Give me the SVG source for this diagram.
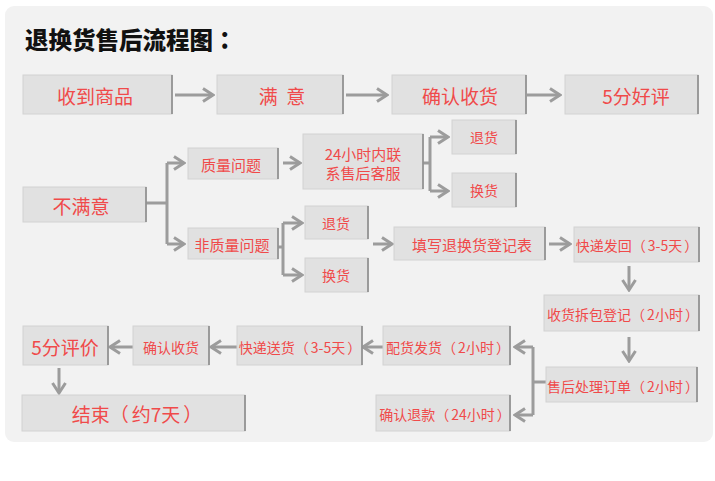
<svg xmlns="http://www.w3.org/2000/svg" width="715" height="481" viewBox="0 0 715 481">
<defs>
<style>
.bx rect{fill:#e1e1e1;stroke:#d2d2d2;stroke-width:1}
.bx line{stroke:#8a8a8a;stroke-width:1.6}
.t{font-family:"Microsoft YaHei","Noto Sans CJK SC",sans-serif;fill:#f04a4a;text-anchor:middle;dominant-baseline:central}
.l{font-size:19px}
.m{font-size:15px}
.s{font-size:14px}
.c path{fill:none;stroke:#9c9c9c;stroke-width:3}
.c path.a{marker-end:url(#ah)}
</style>
<marker id="ah" viewBox="0 0 14 16" refX="12" refY="8" markerWidth="14" markerHeight="16" markerUnits="userSpaceOnUse" orient="auto">
<path d="M2,1.5 L12,8 L2,14.5" fill="none" stroke="#9c9c9c" stroke-width="3"/>
</marker>
</defs>
<rect x="0" y="0" width="715" height="481" fill="#ffffff"/>
<rect x="5" y="6" width="708" height="436" rx="9" fill="#f2f2f2"/>
<text x="25" y="49" font-family="Noto Sans CJK SC,sans-serif" font-size="23.5" font-weight="900" fill="#111">退换货售后流程图<tspan font-family="Noto Sans CJK TC,sans-serif">：</tspan></text>

<g class="c" id="connectors">
<path class="a" d="M175,95 H213"/>
<path class="a" d="M346,95 H387"/>
<path class="a" d="M527,95 H560"/>
<path d="M146,203 H167 M167,163 V244"/>
<path class="a" d="M167,163 H184"/>
<path class="a" d="M167,244 H184"/>
<path class="a" d="M283,163 H300"/>
<path d="M423,163 H430 M430,137 V191"/>
<path class="a" d="M430,137 H448"/>
<path class="a" d="M430,191 H448"/>
<path d="M278,247 H283 M283,223 V275"/>
<path class="a" d="M283,223 H302"/>
<path class="a" d="M283,275 H302"/>
<path class="a" d="M373,244 H392"/>
<path class="a" d="M549,244 H570"/>
<path class="a" d="M629,266 V290"/>
<path class="a" d="M629,337 V361"/>
<path d="M546,382 H533 M533,347 V415"/>
<path class="a" d="M533,347 H515"/>
<path class="a" d="M533,415 H515"/>
<path class="a" d="M383,347 H363"/>
<path class="a" d="M237,347 H211"/>
<path class="a" d="M133,347 H110"/>
<path class="a" d="M59,368 V393"/>
</g>

<g class="bx" id="n1"><rect x="23" y="75" width="149" height="39"/><line x1="172" y1="75" x2="172" y2="114"/><text class="t l" x="95" y="95">收到商品</text></g>
<g class="bx" id="n2"><rect x="217" y="75" width="126" height="39"/><line x1="343" y1="75" x2="343" y2="114"/><text class="t l" x="282" y="95" xml:space="preserve">满  意</text></g>
<g class="bx" id="n3"><rect x="392" y="75" width="134" height="39"/><line x1="526" y1="75" x2="526" y2="114"/><text class="t l" x="460" y="95">确认收货</text></g>
<g class="bx" id="n4"><rect x="565" y="75" width="133" height="39"/><line x1="698" y1="75" x2="698" y2="114"/><text class="t l" x="636" y="95">5分好评</text></g>

<g class="bx" id="n5"><rect x="23" y="187" width="123" height="35"/><line x1="146" y1="187" x2="146" y2="222"/><text class="t l" x="81" y="205">不满意</text></g>
<g class="bx" id="n6"><rect x="188" y="148" width="90" height="31"/><line x1="278" y1="148" x2="278" y2="179"/><text class="t m" x="231" y="164">质量问题</text></g>
<g class="bx" id="n7"><rect x="188" y="228" width="90" height="31"/><line x1="278" y1="228" x2="278" y2="259"/><text class="t m" x="232" y="244">非质量问题</text></g>
<g class="bx" id="n8"><rect x="303" y="134" width="120" height="55"/><line x1="423" y1="134" x2="423" y2="189"/><text class="t m" x="363" y="153">24小时内联</text><text class="t m" x="363" y="172">系售后客服</text></g>
<g class="bx" id="n9"><rect x="452" y="120" width="64" height="34"/><line x1="516" y1="120" x2="516" y2="154"/><text class="t s" x="484" y="137">退货</text></g>
<g class="bx" id="n10"><rect x="452" y="173" width="64" height="34"/><line x1="516" y1="173" x2="516" y2="207"/><text class="t s" x="484" y="190">换货</text></g>
<g class="bx" id="n11"><rect x="305" y="206" width="63" height="33"/><line x1="368" y1="206" x2="368" y2="239"/><text class="t s" x="336" y="223">退货</text></g>
<g class="bx" id="n12"><rect x="305" y="258" width="63" height="34"/><line x1="368" y1="258" x2="368" y2="292"/><text class="t s" x="336" y="275">换货</text></g>
<g class="bx" id="n13"><rect x="394" y="227" width="151" height="33"/><line x1="545" y1="227" x2="545" y2="260"/><text class="t m" x="472" y="244">填写退换货登记表</text></g>
<g class="bx" id="n14"><rect x="574" y="227" width="125" height="35"/><line x1="699" y1="227" x2="699" y2="262"/><text class="t s" x="637" y="245">快递发回（<tspan dx="2">3-5天</tspan><tspan dx="2">）</tspan></text></g>
<g class="bx" id="n15"><rect x="544" y="295" width="155" height="36"/><line x1="699" y1="295" x2="699" y2="331"/><text class="t s" x="623" y="314">收货拆包登记（<tspan dx="2">2小时</tspan><tspan dx="2">）</tspan></text></g>
<g class="bx" id="n16"><rect x="546" y="367" width="151" height="35"/><line x1="697" y1="367" x2="697" y2="402"/><text class="t s" x="623" y="386">售后处理订单（<tspan dx="2">2小时</tspan><tspan dx="2">）</tspan></text></g>
<g class="bx" id="n17"><rect x="383" y="326" width="127" height="39"/><line x1="510" y1="326" x2="510" y2="365"/><text class="t s" x="448" y="347">配货发货（<tspan dx="2">2小时</tspan><tspan dx="2">）</tspan></text></g>
<g class="bx" id="n18"><rect x="376" y="395" width="134" height="36"/><line x1="510" y1="395" x2="510" y2="431"/><text class="t s" x="445" y="414">确认退款（<tspan dx="2">24小时</tspan><tspan dx="2">）</tspan></text></g>
<g class="bx" id="n19"><rect x="237" y="326" width="125" height="39"/><line x1="362" y1="326" x2="362" y2="365"/><text class="t s" x="300" y="347">快递送货（<tspan dx="2">3-5天</tspan><tspan dx="2">）</tspan></text></g>
<g class="bx" id="n20"><rect x="133" y="326" width="76" height="39"/><line x1="209" y1="326" x2="209" y2="365"/><text class="t s" x="171" y="347">确认收货</text></g>
<g class="bx" id="n21"><rect x="23" y="326" width="85" height="39"/><line x1="108" y1="326" x2="108" y2="365"/><text class="t l" x="65" y="346">5分评价</text></g>
<g class="bx" id="n22"><rect x="22" y="395" width="223" height="36"/><line x1="245" y1="395" x2="245" y2="431"/><text class="t l" x="137" y="413">结束（<tspan dx="3">约7天</tspan><tspan dx="3">）</tspan></text></g>
</svg>
